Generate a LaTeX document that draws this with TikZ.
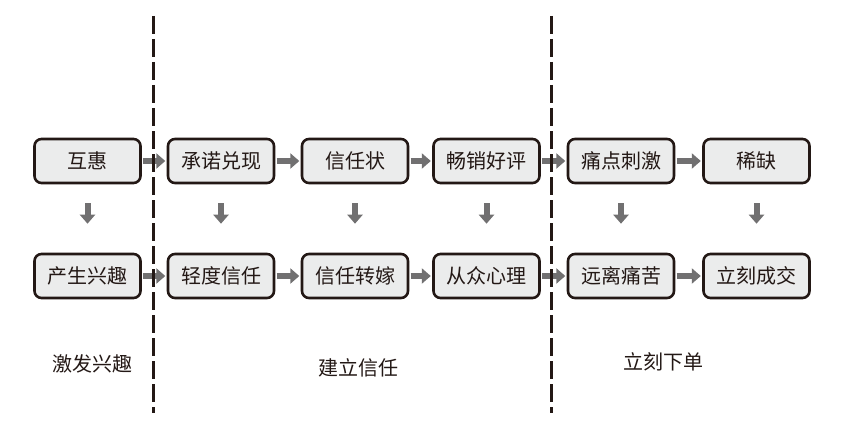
\documentclass[tikz,border=0pt]{standalone}
\usepackage{fontspec}
\setmainfont{Noto Sans CJK SC}
\usetikzlibrary{arrows.meta}
\definecolor{ink}{HTML}{231815}
\definecolor{boxfill}{HTML}{EBECEC}
\definecolor{arr}{HTML}{717071}
\begin{document}
\begin{tikzpicture}[x=1pt,y=-1pt,
  box/.style={draw=ink, line width=2.6pt, rounded corners=7pt, fill=boxfill,
    minimum width=106pt, minimum height=44pt, inner sep=0pt,
    font=\fontsize{20}{20}\selectfont, text=ink},
  flow/.style={draw=arr, line width=6pt, -{Triangle[length=9pt,width=15pt]},
    shorten <=1.2pt, shorten >=1.4pt},
  down/.style={draw=arr, line width=6pt, -{Triangle[length=9pt,width=15pt]},
    shorten <=19pt, shorten >=29pt},
  phase/.style={font=\fontsize{20}{20}\selectfont, text=ink, inner sep=0pt},
  divider/.style={draw=ink, line width=3pt, dash pattern=on 18pt off 5pt}]
\useasboundingbox (0,0) rectangle (842,425);

% top row
\node[box] (a1) at (87.5,161) {互惠};
\node[box] (a2) at (221,161) {承诺兑现};
\node[box] (a3) at (355,161) {信任状};
\node[box] (a4) at (486.5,161) {畅销好评};
\node[box] (a5) at (621,161) {痛点刺激};
\node[box] (a6) at (756.5,161) {稀缺};
% bottom row
\node[box] (b1) at (87.5,276) {产生兴趣};
\node[box] (b2) at (221,276) {轻度信任};
\node[box] (b3) at (355,276) {信任转嫁};
\node[box] (b4) at (486.5,276) {从众心理};
\node[box] (b5) at (621,276) {远离痛苦};
\node[box] (b6) at (756.5,276) {立刻成交};

% horizontal arrows
\draw[flow] (a1) -- (a2);
\draw[flow] (a2) -- (a3);
\draw[flow] (a3) -- (a4);
\draw[flow] (a4) -- (a5);
\draw[flow] (a5) -- (a6);
\draw[flow] (b1) -- (b2);
\draw[flow] (b2) -- (b3);
\draw[flow] (b3) -- (b4);
\draw[flow] (b4) -- (b5);
\draw[flow] (b5) -- (b6);

% vertical arrows
\draw[down] (a1.south) -- (b1.north);
\draw[down] (a2.south) -- (b2.north);
\draw[down] (a3.south) -- (b3.north);
\draw[down] (a4.south) -- (b4.north);
\draw[down] (a5.south) -- (b5.north);
\draw[down] (a6.south) -- (b6.north);

% dividers
\coordinate (d1t) at (153,16);
\coordinate (d1b) at (153,413);
\coordinate (d2t) at (551,16);
\coordinate (d2b) at (551,413);
\draw[divider] (d1t) -- (d1b);
\draw[divider] (d2t) -- (d2b);

% phase labels
\node[phase] (p1) at (92,364) {激发兴趣};
\node[phase] (p2) at (358,368) {建立信任};
\node[phase] (p3) at (663,362) {立刻下单};
\end{tikzpicture}
\end{document}
